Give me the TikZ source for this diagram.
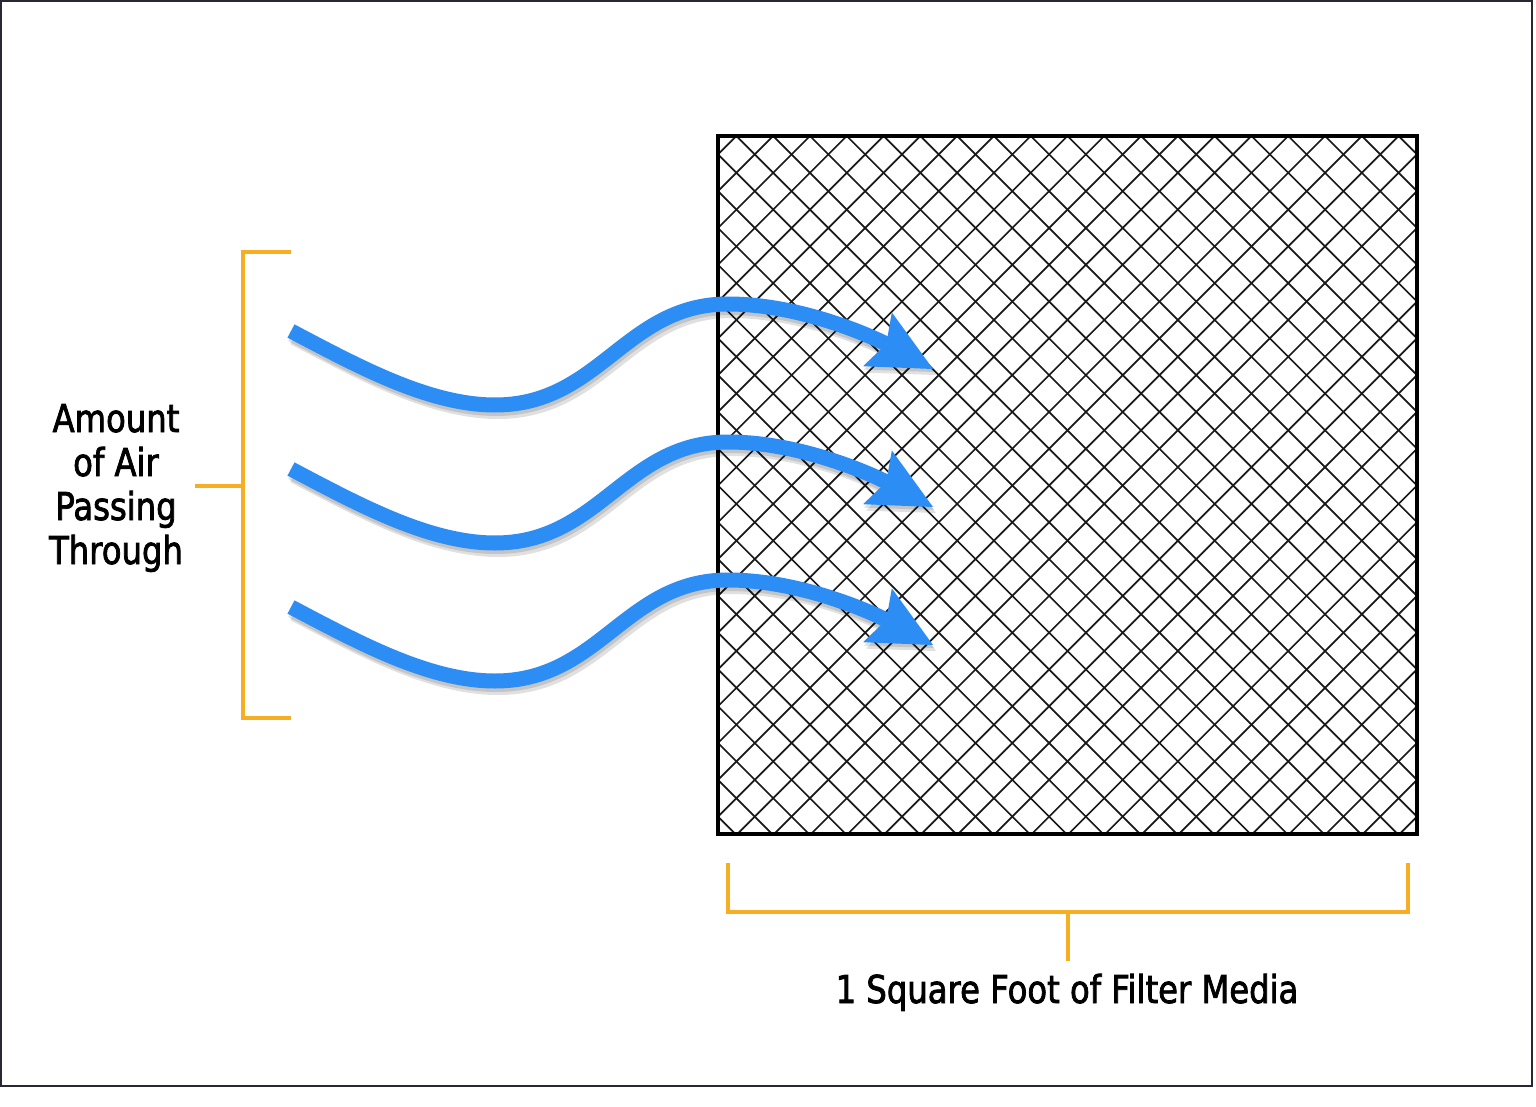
\documentclass[tikz,border=0pt]{standalone}
\usepackage{fontspec}
\newfontfamily\lblfont[FakeStretch=0.84,FakeBold=2]{DejaVu Sans}
\usetikzlibrary{arrows.meta}
\definecolor{airblue}{RGB}{44,141,245}
\definecolor{brk}{RGB}{246,175,35}
\definecolor{frameedge}{RGB}{40,40,50}
\begin{document}
\begin{tikzpicture}[x=1pt,y=-1pt,
  airflow/.style={line width=15pt, draw=airblue, -{Stealth[length=63pt,width=61pt,inset=10pt,line width=0pt]}},
  airshade/.style={line width=16pt, draw=black, opacity=0.12, -{Stealth[length=63pt,width=62pt,inset=10pt,line width=0pt]}},
  bracket/.style={draw=brk, line width=4.5pt},
  mesh/.style={draw=black!90, line width=1.7pt},
  lbl/.style={font=\lblfont\fontsize{38.4}{44}\selectfont, inner sep=0pt, anchor=base}]
\fill[white] (0,0) rectangle (1536,1107);
\useasboundingbox (0,0) rectangle (1536,1107);
\draw[frameedge, line width=2.4pt] (1.2,1.2) rectangle (1532.2,1086);
% mesh
\begin{scope}
  \clip (718,136) rectangle (1417,834);
  \foreach \k in {-19,...,18} \draw[mesh] ({736.39+\k*36.789},136) -- ++(720,720);
  \foreach \k in {0,...,37} \draw[mesh] ({736.39+\k*36.789},136) -- ++(-720,720);
\end{scope}
\node[draw=black, line width=3.6pt, minimum width=699pt, minimum height=698pt, inner sep=0pt, outer sep=0pt, anchor=north west] (filter) at (718,136) {};
% air arrows
\foreach \i/\dy in {1/0,2/138,3/276}{
  \begin{scope}[yshift=-\dy pt]
    \coordinate (s\i) at (291,331);
    \coordinate (t\i) at (933,369);
    \foreach \sx/\sy in {1/3,3/6}{
      \draw[airshade, transform canvas={shift={(\sx pt,-\sy pt)}}] (s\i) .. controls (361,368) and (430,405) .. (495,405) .. controls (600,405) and (625,304) .. (728,304) .. controls (802,304) and (875,338) .. (t\i);
    }
    \draw[airflow] (s\i) .. controls (361,368) and (430,405) .. (495,405) .. controls (600,405) and (625,304) .. (728,304) .. controls (802,304) and (875,338) .. (t\i);
  \end{scope}
}
% brackets
\coordinate (lbt) at (291,252);
\coordinate (lbb) at (291,718);
\coordinate (lbm) at (195,486);
\draw[bracket] (lbt) -- (243,252) -- (243,718) -- (lbb);
\draw[bracket] (243,486) -- (lbm);
\coordinate (bbl) at (728,863);
\coordinate (bbr) at (1408,863);
\coordinate (bbm) at (1068,961);
\draw[bracket] (bbl) -- (728,912) -- (1408,912) -- (bbr);
\draw[bracket] (1068,912) -- (bbm);
% labels
\node[lbl] (air1) at (116,432) {Amount};
\node[lbl] (air2) at (116,476) {of Air};
\node[lbl] (air3) at (116,520) {Passing};
\node[lbl] (air4) at (116,564) {Through};
\node[lbl] (media) at (1067,1003) {1 Square Foot of Filter Media};
\end{tikzpicture}
\end{document}
